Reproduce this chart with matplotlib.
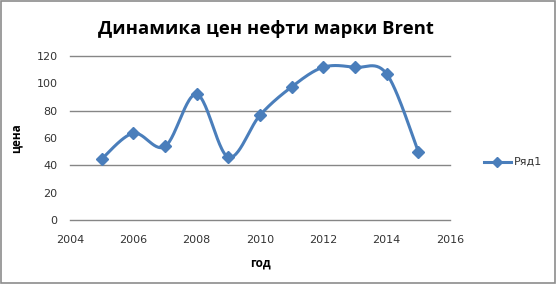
import numpy as np
import matplotlib
matplotlib.use("Agg")
import matplotlib.pyplot as plt
from matplotlib.patches import Rectangle

years = [2005, 2006, 2007, 2008, 2009, 2010, 2011, 2012, 2013, 2014, 2015]
prices = [44.6, 63.5, 53.8, 92.0, 46.0, 76.7, 97.4, 111.8, 111.7, 106.9, 50.1]
x_ticks = [2004, 2006, 2008, 2010, 2012, 2014, 2016]
y_ticks = [0, 20, 40, 60, 80, 100, 120]
y_grid = [0, 40, 80, 120]
title = "Динамика цен нефти марки Brent"
series_name = "Ряд1"

color = "#4A7EBB"

def smooth(xs, ys, n=30):
    # Catmull-Rom style smoothing (like Excel smoothed lines)
    xs = np.asarray(xs, float); ys = np.asarray(ys, float)
    px = np.concatenate([[xs[0]], xs, [xs[-1]]])
    py = np.concatenate([[ys[0]], ys, [ys[-1]]])
    ox, oy = [], []
    for i in range(1, len(px) - 2):
        p0 = np.array([px[i-1], py[i-1]]); p1 = np.array([px[i], py[i]])
        p2 = np.array([px[i+1], py[i+1]]); p3 = np.array([px[i+2], py[i+2]])
        c1 = p1 + (p2 - p0) / 6.0
        c2 = p2 - (p3 - p1) / 6.0
        t = np.linspace(0, 1, n)[:, None]
        pts = ((1-t)**3) * p1 + 3*((1-t)**2)*t*c1 + 3*(1-t)*t**2*c2 + t**3*p2
        ox.extend(pts[:, 0]); oy.extend(pts[:, 1])
    return np.array(ox), np.array(oy)

fig = plt.figure(figsize=(5.56, 2.84), dpi=100)
fig.patch.set_facecolor("white")
fig.add_artist(Rectangle((0.001, 0.002), 0.997, 0.995, transform=fig.transFigure,
                         fill=False, edgecolor="#8C8C8C", linewidth=1.2))

ax = fig.add_axes([70/556, 1 - 220/284, 380/556, 164/284])
ax.set_xlim(2004, 2016)
ax.set_ylim(0, 120)
for s in ax.spines.values():
    s.set_visible(False)
for g in y_grid:
    ax.axhline(g, color="#868686", linewidth=1.0, zorder=1, clip_on=False)

sx, sy = smooth(years, prices)
ax.plot(sx, sy, color=color, linewidth=2.2, zorder=3, solid_capstyle="round")
ax.plot(years, prices, linestyle="none", marker="D", markersize=6.5,
        color=color, zorder=4)

ax.set_xticks(x_ticks)
ax.set_yticks(y_ticks)
ax.tick_params(length=0, labelsize=8, labelcolor="#333333")
ax.tick_params(axis="x", pad=11)
ax.tick_params(axis="y", pad=9)
ax.set_xlabel("год", fontsize=8.5, fontweight="bold", labelpad=8, family="Open Sans")
ax.set_ylabel("цена", fontsize=8.5, fontweight="bold", labelpad=10, family="Open Sans")

fig.text(0.4775, 1 - 29/284, title, ha="center", va="center", fontsize=13.3,
         fontweight="bold", family="Open Sans")

# legend
ly = 1 - 162/284
fig.add_artist(plt.Line2D([484/556, 511/556], [ly, ly], transform=fig.transFigure,
                          color=color, linewidth=2.2))
fig.add_artist(plt.Line2D([497/556], [ly], transform=fig.transFigure,
                          color=color, marker="D", markersize=5.5, linestyle="none"))
fig.text(514/556, ly, series_name, ha="left", va="center", fontsize=8, color="#333333")

fig.savefig("out.png", dpi=100)
